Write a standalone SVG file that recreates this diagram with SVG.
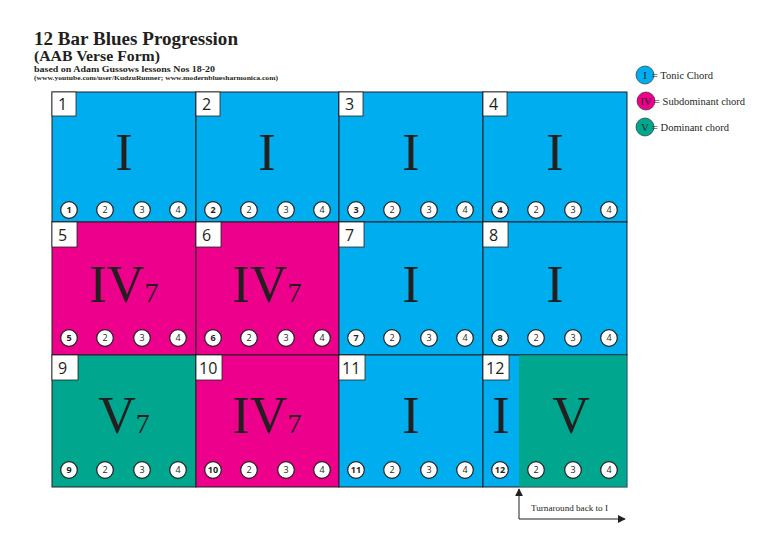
<svg xmlns="http://www.w3.org/2000/svg" width="768" height="543" viewBox="0 0 768 543">
<defs>
<style>
.cell{stroke:#231f20;stroke-width:1}
.t{fill:#00aeef}.s{fill:#ec008c}.d{fill:#00a78e}
.nb{fill:#fff;stroke:#231f20;stroke-width:0.8}
.nt{font-family:"Open Sans","Liberation Sans",sans-serif;font-size:16px;fill:#231f20}
.ch{font-family:"Liberation Serif","DejaVu Serif",serif;font-size:52px;fill:#231f20;text-anchor:middle}
.sub{font-size:28px}
.bc{fill:#fff;stroke:#231f20;stroke-width:1.2}
.bt{font-family:"Open Sans","Liberation Sans",sans-serif;font-size:9px;fill:#231f20;text-anchor:middle}
.bb{font-weight:bold}
.sf{font-family:"Liberation Serif","DejaVu Serif",serif;fill:#231f20}
.lg{font-family:"Liberation Serif","DejaVu Serif",serif;font-size:10.5px;fill:#231f20}
.ln{fill:none;stroke:#231f20;stroke-width:1}
</style>
<marker id="ah" viewBox="0 0 10 10" refX="9" refY="5" markerWidth="8" markerHeight="8" orient="auto-start-reverse" markerUnits="userSpaceOnUse">
<path d="M0,0 L10,5 L0,10 z" fill="#231f20"/>
</marker>
<g id="beats">
<circle class="bc" cx="53" cy="0" r="8.3"/><text class="bt" x="53" y="3.2">2</text>
<circle class="bc" cx="90" cy="0" r="8.3"/><text class="bt" x="90" y="3.2">3</text>
<circle class="bc" cx="126" cy="0" r="8.3"/><text class="bt" x="126" y="3.2">4</text>
</g>
</defs>
<rect width="768" height="543" fill="#fff"/>
<g id="title">
<text class="sf" x="34" y="45" font-size="19" font-weight="bold" textLength="204" lengthAdjust="spacingAndGlyphs">12 Bar Blues Progression</text>
<text class="sf" x="34" y="61" font-size="14" font-weight="bold" textLength="126" lengthAdjust="spacingAndGlyphs">(AAB Verse Form)</text>
<text class="sf" x="34" y="72" font-size="8" font-weight="bold" textLength="181" lengthAdjust="spacingAndGlyphs">based on Adam Gussows lessons Nos 18-20</text>
<text class="sf" x="34" y="80" font-size="6" font-weight="bold" textLength="244" lengthAdjust="spacingAndGlyphs">(www.youtube.com/user/KudzuRunner; www.modernbluesharmonica.com)</text>
</g>
<g id="legend">
<circle class="t" cx="645" cy="75" r="9" stroke="#231f20" stroke-width="0.6"/><text class="lg" x="645" y="79" text-anchor="middle">I</text>
<text class="lg" x="652" y="79">= Tonic Chord</text>
<circle class="s" cx="646" cy="101" r="9" stroke="#231f20" stroke-width="0.6"/><text class="lg" x="646" y="105" text-anchor="middle">IV</text>
<text class="lg" x="654" y="105">= Subdominant chord</text>
<circle class="d" cx="645" cy="127" r="9" stroke="#231f20" stroke-width="0.6"/><text class="lg" x="645" y="131" text-anchor="middle">V</text>
<text class="lg" x="652" y="131">= Dominant chord</text>
</g>
<g id="bar1">
<rect class="cell t" x="52" y="92" width="144" height="130"/>
<rect class="nb" x="52" y="92" width="24" height="24"/><text class="nt" x="58" y="110">1</text>
<text class="ch" x="124" y="170">I</text>
<circle class="bc" cx="69" cy="210" r="8.3"/><text class="bt bb" x="69" y="213.2">1</text>
<use href="#beats" x="52" y="210"/>
</g>
<g id="bar2">
<rect class="cell t" x="196" y="92" width="143" height="130"/>
<rect class="nb" x="196" y="92" width="24" height="24"/><text class="nt" x="202" y="110">2</text>
<text class="ch" x="267" y="170">I</text>
<circle class="bc" cx="213" cy="210" r="8.3"/><text class="bt bb" x="213" y="213.2">2</text>
<use href="#beats" x="196" y="210"/>
</g>
<g id="bar3">
<rect class="cell t" x="339" y="92" width="144" height="130"/>
<rect class="nb" x="339" y="92" width="24" height="24"/><text class="nt" x="345" y="110">3</text>
<text class="ch" x="411" y="170">I</text>
<circle class="bc" cx="356" cy="210" r="8.3"/><text class="bt bb" x="356" y="213.2">3</text>
<use href="#beats" x="339" y="210"/>
</g>
<g id="bar4">
<rect class="cell t" x="483" y="92" width="144" height="130"/>
<rect class="nb" x="483" y="92" width="24" height="24"/><text class="nt" x="489" y="110">4</text>
<text class="ch" x="555" y="170">I</text>
<circle class="bc" cx="500" cy="210" r="8.3"/><text class="bt bb" x="500" y="213.2">4</text>
<use href="#beats" x="483" y="210"/>
</g>
<g id="bar5">
<rect class="cell s" x="52" y="222" width="144" height="133"/>
<rect class="nb" x="52" y="222" width="25" height="25"/><text class="nt" x="58" y="241">5</text>
<text class="ch" x="124" y="302">IV<tspan class="sub">7</tspan></text>
<circle class="bc" cx="69" cy="338" r="8.3"/><text class="bt bb" x="69" y="341.2">5</text>
<use href="#beats" x="52" y="338"/>
</g>
<g id="bar6">
<rect class="cell s" x="196" y="222" width="143" height="133"/>
<rect class="nb" x="196" y="222" width="25" height="25"/><text class="nt" x="202" y="241">6</text>
<text class="ch" x="267" y="302">IV<tspan class="sub">7</tspan></text>
<circle class="bc" cx="213" cy="338" r="8.3"/><text class="bt bb" x="213" y="341.2">6</text>
<use href="#beats" x="196" y="338"/>
</g>
<g id="bar7">
<rect class="cell t" x="339" y="222" width="144" height="133"/>
<rect class="nb" x="339" y="222" width="25" height="25"/><text class="nt" x="345" y="241">7</text>
<text class="ch" x="411" y="302">I</text>
<circle class="bc" cx="356" cy="338" r="8.3"/><text class="bt bb" x="356" y="341.2">7</text>
<use href="#beats" x="339" y="338"/>
</g>
<g id="bar8">
<rect class="cell t" x="483" y="222" width="144" height="133"/>
<rect class="nb" x="483" y="222" width="25" height="25"/><text class="nt" x="489" y="241">8</text>
<text class="ch" x="555" y="302">I</text>
<circle class="bc" cx="500" cy="338" r="8.3"/><text class="bt bb" x="500" y="341.2">8</text>
<use href="#beats" x="483" y="338"/>
</g>
<g id="bar9">
<rect class="cell d" x="52" y="355" width="144" height="132"/>
<rect class="nb" x="52" y="355" width="26" height="25"/><text class="nt" x="58" y="374">9</text>
<text class="ch" x="124" y="433">V<tspan class="sub">7</tspan></text>
<circle class="bc" cx="69" cy="470" r="8.3"/><text class="bt bb" x="69" y="473.2">9</text>
<use href="#beats" x="52" y="470"/>
</g>
<g id="bar10">
<rect class="cell s" x="196" y="355" width="143" height="132"/>
<rect class="nb" x="196" y="355" width="26" height="25"/><text class="nt" x="199" y="374">10</text>
<text class="ch" x="267" y="433">IV<tspan class="sub">7</tspan></text>
<circle class="bc" cx="213" cy="470" r="8.3"/><text class="bt bb" x="213" y="473.2">10</text>
<use href="#beats" x="196" y="470"/>
</g>
<g id="bar11">
<rect class="cell t" x="339" y="355" width="144" height="132"/>
<rect class="nb" x="339" y="355" width="26" height="25"/><text class="nt" x="342" y="374">11</text>
<text class="ch" x="411" y="433">I</text>
<circle class="bc" cx="356" cy="470" r="8.3"/><text class="bt bb" x="356" y="473.2">11</text>
<use href="#beats" x="339" y="470"/>
</g>
<g id="bar12">
<rect class="cell t" x="483" y="355" width="144" height="132"/>
<rect class="d" x="519" y="355.5" width="107.5" height="131"/>
<rect class="nb" x="483" y="355" width="26" height="25"/><text class="nt" x="486" y="374">12</text>
<text class="ch" x="501" y="433">I</text>
<text class="ch" x="571" y="433">V</text>
<circle class="bc" cx="500" cy="470" r="8.3"/><text class="bt bb" x="500" y="473.2">12</text>
<use href="#beats" x="483" y="470"/>
</g>
<g id="connectors">
<path class="ln" d="M519,489 V519 H625" marker-start="url(#ah)" marker-end="url(#ah)"/>
<text class="sf" x="531" y="511" font-size="8.5" textLength="77" lengthAdjust="spacingAndGlyphs">Turnaround back to I</text>
</g>
</svg>
